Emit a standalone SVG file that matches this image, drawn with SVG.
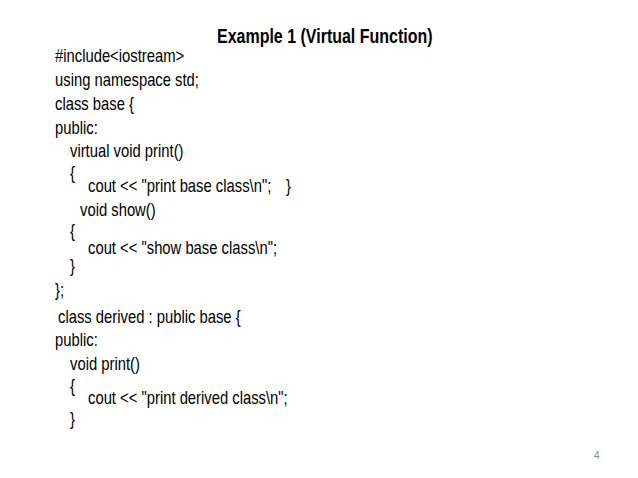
<svg xmlns="http://www.w3.org/2000/svg" width="638" height="478" viewBox="0 0 638 478">
<style>
.t{font-family:"Liberation Sans",Arial,sans-serif;font-size:18.5px;fill:#000}
.h{font-family:"Liberation Sans",Arial,sans-serif;font-size:19.5px;font-weight:bold;fill:#000}
.pg{font-family:"Liberation Sans",Arial,sans-serif;font-size:10px;fill:#8a8a8a}
</style>
<rect width="638" height="478" fill="#fff"/>
<text class="h" transform="translate(217,43) scale(0.82,1)">Example 1 (Virtual Function)</text>
<g id="code">
<text class="t" transform="translate(55,62) scale(0.8,1)">#include&lt;iostream&gt;</text>
<text class="t" transform="translate(55,86) scale(0.8,1)">using namespace std;</text>
<text class="t" transform="translate(55,110) scale(0.8,1)">class base {</text>
<text class="t" transform="translate(55,134) scale(0.8,1)">public:</text>
<text class="t" transform="translate(70,157) scale(0.8,1)">virtual void print()</text>
<text class="t" transform="translate(70,179) scale(0.8,1)">{</text>
<text class="t" transform="translate(88,192) scale(0.8,1)">cout &lt;&lt; "print base class\n";</text>
<text class="t" transform="translate(286,192) scale(0.8,1)">}</text>
<text class="t" transform="translate(80,216) scale(0.8,1)">void show()</text>
<text class="t" transform="translate(70,237) scale(0.8,1)">{</text>
<text class="t" transform="translate(88,254) scale(0.8,1)">cout &lt;&lt; "show base class\n";</text>
<text class="t" transform="translate(70,272) scale(0.8,1)">}</text>
<text class="t" transform="translate(55,296) scale(0.8,1)">};</text>
<text class="t" transform="translate(58,323) scale(0.8,1)">class derived : public base {</text>
<text class="t" transform="translate(55,346) scale(0.8,1)">public:</text>
<text class="t" transform="translate(70,370) scale(0.8,1)">void print()</text>
<text class="t" transform="translate(70,392) scale(0.8,1)">{</text>
<text class="t" transform="translate(88,404) scale(0.8,1)">cout &lt;&lt; "print derived class\n";</text>
<text class="t" transform="translate(70,425) scale(0.8,1)">}</text>
</g>
<text class="pg" x="594" y="459">4</text>
</svg>
